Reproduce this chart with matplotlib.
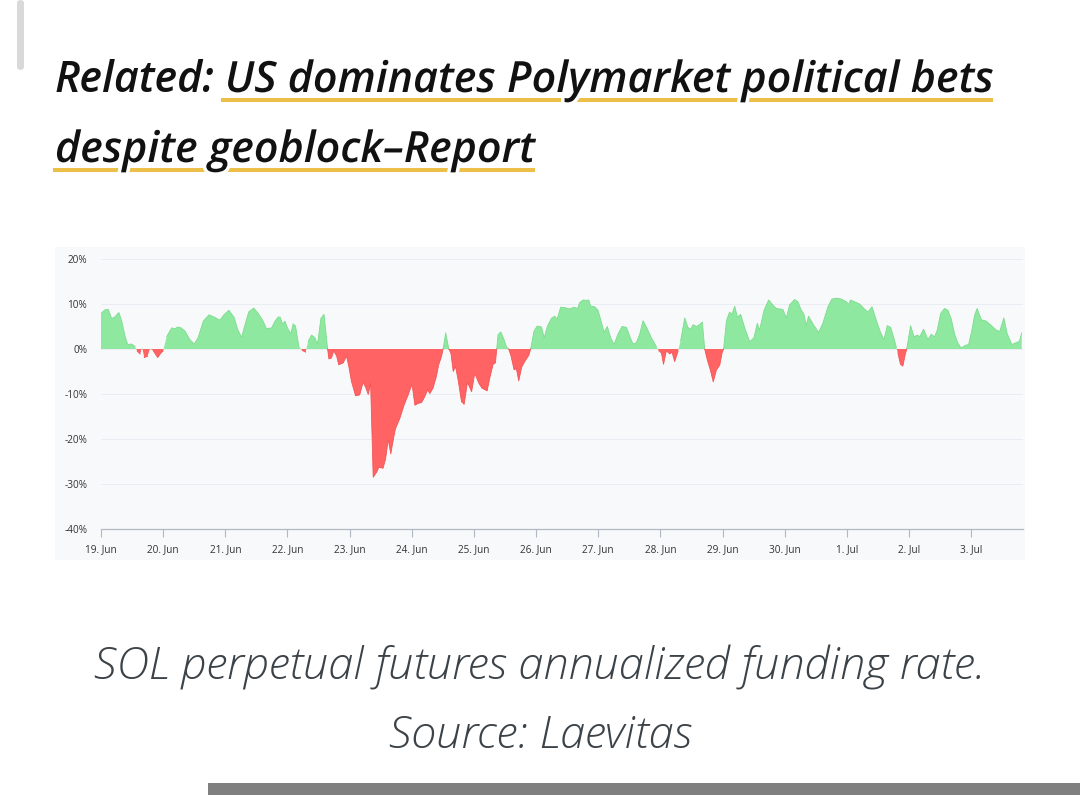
import matplotlib
matplotlib.use('Agg')
import matplotlib.pyplot as plt
import matplotlib.patheffects as pe
from matplotlib.lines import Line2D
from matplotlib.patches import Rectangle, FancyBboxPatch
import numpy as np

# hours since 19 Jun 00:00, annualized funding rate in %
hours = [0.0, 1.5, 2.8, 4.1, 5.1, 6.9, 8.0, 9.3, 10.3, 11.8, 13.1, 14.0, 15.1, 15.9, 16.7,
         18.0, 18.9, 20.2, 21.9, 23.0, 24.0, 25.4, 27.3, 28.6, 29.6, 30.9, 32.4, 34.3, 36.0,
         37.5, 39.5, 41.7, 43.7, 45.9, 47.6, 49.4, 51.4, 52.8, 54.3, 55.8, 57.1, 59.0, 60.7,
         62.6, 63.9, 65.9, 67.1, 68.4, 69.2, 70.1, 71.0, 72.0, 73.3, 74.2, 75.1, 76.4, 77.7,
         79.0, 80.0, 81.3, 82.6, 83.6, 84.9, 86.1, 87.5, 88.0, 89.0, 89.9, 91.0, 91.8, 93.5,
         94.8, 95.7, 96.7, 98.3, 99.9, 101.2, 102.1, 103.2, 104.1, 105.1, 106.4, 107.3, 108.9,
         109.9, 110.9, 111.9, 112.8, 113.7, 115.4, 117.0, 118.6, 120.1, 121.2, 122.4, 123.8,
         125.0, 126.1, 127.0, 128.2, 129.5, 130.4, 131.5, 132.1, 133.1, 134.3, 135.1, 136.0,
         136.9, 137.9, 139.2, 140.2, 141.5, 143.1, 144.3, 145.9, 147.1, 149.1, 150.1, 151.4,
         152.3, 152.8, 153.3, 154.4, 155.6, 156.6, 157.4, 158.2, 159.5, 160.4, 161.3, 162.4,
         163.6, 165.2, 165.9, 167.2, 168.4, 170.1, 171.1, 172.4, 173.9, 175.2, 176.1, 177.5,
         179.1, 181.0, 182.6, 184.0, 184.8, 186.1, 187.4, 188.3, 189.1, 190.6, 191.9, 193.2,
         194.2, 195.5, 196.8, 198.1, 199.6, 201.2, 202.9, 204.1, 205.4, 206.7, 208.0, 209.3,
         211.0, 212.5, 214.4, 215.4, 216.4, 217.2, 218.3, 219.6, 220.5, 221.5, 222.8, 223.8,
         225.4, 226.6, 227.7, 228.6, 229.9, 231.1, 232.2, 233.1, 234.1, 235.3, 236.4, 237.6,
         238.9, 239.8, 240.4, 241.5, 242.7, 243.6, 244.7, 245.7, 247.0, 248.5, 250.5, 252.1,
         253.4, 254.3, 256.0, 257.8, 259.4, 260.7, 263.3, 264.6, 265.9, 267.8, 269.1, 270.4,
         271.4, 272.3, 273.2, 275.3, 277.1, 278.7, 280.7, 282.2, 283.9, 285.8, 287.8, 288.7,
         289.4, 291.0, 292.9, 294.6, 296.1, 297.7, 299.4, 301.0, 302.3, 303.6, 304.9, 306.1,
         307.1, 307.7, 308.7, 309.6, 310.5, 311.1, 312.6, 313.9, 315.2, 316.1, 317.6, 319.3,
         320.6, 321.8, 322.9, 324.2, 325.7, 327.0, 328.3, 329.6, 330.8, 332.1, 333.7, 335.0,
         336.2, 337.3, 338.3, 339.9, 341.8, 343.8, 345.7, 347.0, 348.6, 349.9, 351.7, 353.8,
         354.6, 355.5]
rate = [7.9, 8.7, 8.8, 6.8, 7.0, 8.1, 6.2, 2.8, 1.0, 1.1, 0.6, -0.5, -1.1, 0.4, -1.9,
        -1.6, 0.1, -0.4, -1.9, -1.0, -0.4, 2.8, 4.7, 4.5, 4.9, 4.7, 4.0, 2.1, 1.1,
        2.5, 6.2, 7.6, 7.1, 6.4, 7.7, 8.6, 7.0, 4.3, 2.6, 5.8, 8.3, 9.1, 7.9,
        6.2, 4.5, 4.7, 6.1, 7.1, 7.1, 5.5, 6.2, 4.7, 3.4, 5.6, 5.1, 0.6, -0.3,
        -0.7, 1.7, 3.1, 2.5, 1.0, 6.8, 7.7, 0.0, -2.2, -2.0, -0.4, -1.6, -3.5, -3.1,
        -1.6, -3.9, -7.2, -10.4, -10.2, -7.4, -8.4, -10.1, -7.6, -28.5, -27.4, -26.3, -26.5,
        -24.4, -20.1, -23.3, -20.3, -17.7, -15.4, -12.5, -10.2, -7.8, -12.5, -12.1, -11.9,
        -10.6, -9.1, -9.9, -8.7, -6.1, -3.5, -1.6, 0.0, 3.6, 0.0, -0.9, -5.0,
        -3.9, -6.9, -11.7, -12.3, -7.4, -9.5, -5.4, -7.6, -8.7, -9.3, -6.5, -3.4,
        -3.1, 0.0, 3.2, 3.8, 2.1, 0.4, 0.0, -1.3, -4.6, -4.4, -7.1, -4.1,
        -2.8, -1.4, 0.0, 4.0, 5.1, 4.9, 2.5, 5.1, 6.8, 7.3, 6.6, 9.3,
        9.2, 8.9, 9.3, 9.0, 10.3, 10.9, 10.8, 10.9, 9.5, 9.4, 8.6, 6.0,
        3.7, 5.0, 2.5, 1.0, 3.3, 5.0, 4.8, 2.9, 1.1, 1.4, 3.3, 6.3,
        4.4, 2.5, 0.6, -0.4, -0.9, -3.4, -0.4, -1.1, -0.7, -2.8, -0.5, 1.8,
        6.9, 4.8, 4.4, 5.4, 5.0, 5.4, 6.0, 0.0, -2.4, -4.7, -7.3, -4.7,
        -3.6, -0.9, 0.0, 6.3, 8.2, 7.7, 9.5, 7.1, 7.7, 4.8, 1.6, 2.5,
        5.7, 4.2, 8.6, 10.9, 9.8, 9.0, 8.8, 6.9, 9.8, 11.0, 10.5, 8.6,
        7.8, 5.2, 7.3, 5.2, 3.7, 5.7, 9.4, 11.1, 11.3, 11.1, 10.5, 9.9,
        10.9, 10.5, 10.0, 9.0, 8.2, 9.4, 6.3, 3.7, 2.1, 5.2, 4.8, 2.5,
        0.4, -0.9, -3.4, -3.8, -1.3, 0.0, 5.2, 2.7, 3.1, 2.7, 4.4, 2.1,
        3.3, 2.7, 4.2, 7.9, 9.0, 8.6, 6.7, 3.3, 1.4, 0.2, 0.8, 1.0,
        4.0, 7.5, 9.0, 6.5, 6.2, 5.2, 4.2, 3.9, 6.9, 3.4, 1.0, 1.5,
        1.7, 3.6]

tick_labels = ['19. Jun', '20. Jun', '21. Jun', '22. Jun', '23. Jun', '24. Jun', '25. Jun',
               '26. Jun', '27. Jun', '28. Jun', '29. Jun', '30. Jun', '1. Jul', '2. Jul', '3. Jul']
y_ticks = [-40, -30, -20, -10, 0, 10, 20]

heading_plain = 'Related:'
heading_link1 = 'US dominates Polymarket political bets'
heading_link2 = 'despite geoblock\u2013Report'
caption1 = 'SOL perpetual futures annualized funding rate.'
caption2 = 'Source: Laevitas'

W, H = 1080, 795
fig = plt.figure(figsize=(W / 100, H / 100), dpi=100)
fig.patch.set_facecolor('white')


def fx(px):
    return px / W


def fy(py):
    return 1 - py / H


# scrollbar thumb, top-left
fig.add_artist(FancyBboxPatch((fx(17), fy(70)), fx(7), fy(0) - fy(70),
                              boxstyle='round,pad=0,rounding_size=0.004',
                              transform=fig.transFigure, facecolor='#d9d9d9',
                              edgecolor='none'))

# chart panel background
fig.add_artist(Rectangle((fx(55), fy(560)), fx(1025) - fx(55), fy(247) - fy(560),
                         transform=fig.transFigure, facecolor='#f8f9fb', edgecolor='none',
                         zorder=0))

ax = fig.add_axes([fx(101), fy(529), fx(1023) - fx(101), fy(259) - fy(529)])
ax.set_facecolor('none')

x = np.array(hours)
y = np.array(rate)
ax.fill_between(x, y, 0, where=y >= 0, interpolate=True, color='#8fe89f', linewidth=0)
ax.fill_between(x, y, 0, where=y <= 0, interpolate=True, color='#ff6363', linewidth=0)
ax.plot(x, np.ma.masked_where(y < 0, y), color='#7ddc8e', linewidth=0.6)
ax.plot(x, np.ma.masked_where(y > 0, y), color='#f25555', linewidth=0.6)

ax.set_xlim(0, 356)
ax.set_ylim(-40, 20)
ax.set_xticks([i * 24 for i in range(len(tick_labels))])
ax.set_xticklabels(tick_labels, fontsize=7.2, color='#333333', family='Open Sans')
ax.set_yticks(y_ticks)
ax.set_yticklabels([f'{v}%' for v in y_ticks], fontsize=7.2, color='#333333', family='Open Sans')
ax.grid(axis='y', color='#e9edf3', linewidth=0.7)
ax.set_axisbelow(True)
for side in ['top', 'right', 'left']:
    ax.spines[side].set_visible(False)
ax.spines['bottom'].set_color('#b0b8c4')
ax.spines['bottom'].set_linewidth(0.9)
ax.tick_params(axis='x', length=6, width=0.8, color='#b0b8c4', pad=5)
ax.tick_params(axis='y', length=0, pad=10)

# heading with yellow underlines
renderer = fig.canvas.get_renderer()
stroke = [pe.withStroke(linewidth=5, foreground='white')]
hfont = dict(family='Open Sans', style='italic', weight='semibold', fontsize=31,
             color='#111111', va='baseline', zorder=5)
t0 = fig.text(fx(55), fy(92), heading_plain, **hfont)
b0 = t0.get_window_extent(renderer)
t1 = fig.text(fx(b0.x1 + 10), fy(92), heading_link1, path_effects=stroke, **hfont)
t2 = fig.text(fx(55), fy(162), heading_link2, path_effects=stroke, **hfont)
b1 = t1.get_window_extent(renderer)
b2 = t2.get_window_extent(renderer)
ucol = '#ecbf48'
fig.add_artist(Line2D([fx(b1.x0 - 2), fx(b1.x1 - 2)], [fy(100), fy(100)], color=ucol,
                      linewidth=2.9, transform=fig.transFigure, zorder=3))
fig.add_artist(Line2D([fx(b2.x0), fx(b2.x1 - 2)], [fy(170), fy(170)], color=ucol,
                      linewidth=2.9, transform=fig.transFigure, zorder=3))

# caption
cfont = dict(family='Open Sans', style='italic', weight='light', fontsize=32.5,
             color='#3b4248', ha='center', va='baseline')
fig.text(0.5, fy(679), caption1, **cfont)
fig.text(0.5, fy(748), caption2, **cfont)

# bottom grey bar
fig.add_artist(Rectangle((fx(208), 0), fx(W) - fx(208), fy(783), transform=fig.transFigure,
                         facecolor='#808080', edgecolor='none'))

fig.savefig('out.png', dpi=100)
